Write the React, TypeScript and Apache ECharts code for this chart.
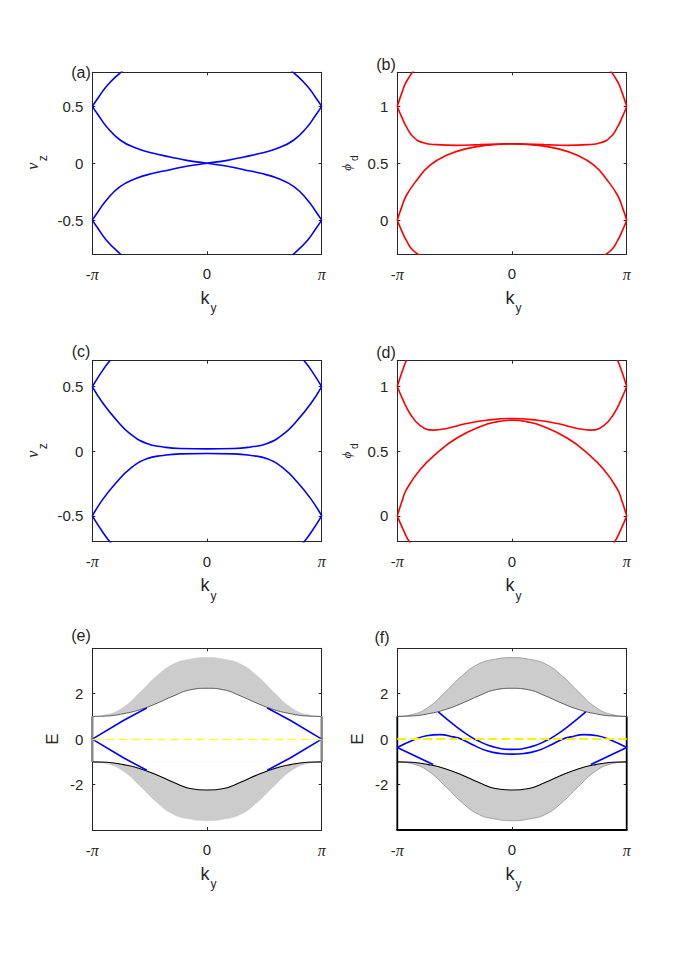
import React, { useEffect, useRef } from 'react';
import * as echarts from 'echarts';

const PI = Math.PI;

// ---------- Panel (a): nu_z ----------
const kA = [-PI, -2.98, -2.75, -2.38, -1.93, -1.47, -1.01, -0.56, 0, 0.56, 1.01, 1.47, 1.93, 2.38, 2.75, 2.98, PI];
const nuA_fall = [0.5, 0.424, 0.322, 0.205, 0.132, 0.088, 0.056, 0.026, 0, -0.026, -0.056, -0.088, -0.132, -0.205, -0.322, -0.424, -0.5];
const nuA_rise = [-0.5, -0.424, -0.322, -0.205, -0.132, -0.088, -0.056, -0.026, 0, 0.026, 0.056, 0.088, 0.132, 0.205, 0.322, 0.424, 0.5];
const kA_left = [-PI, -2.98, -2.75, -2.38, -2.2];
const kA_right = [2.2, 2.38, 2.75, 2.98, PI];
const nuA_topLeft = [0.5, 0.576, 0.678, 0.795, 0.84];
const nuA_botLeft = [-0.5, -0.576, -0.678, -0.795, -0.84];
const nuA_topRight = [0.84, 0.795, 0.678, 0.576, 0.5];
const nuA_botRight = [-0.84, -0.795, -0.678, -0.576, -0.5];

// ---------- Panel (b): phi_d ----------
const kB = [-PI, -3.02, -2.89, -2.61, -2.25, -1.79, -1.24, -0.69, 0, 0.69, 1.24, 1.79, 2.25, 2.61, 2.89, 3.02, PI];
const phiB_dome = [0, 0.117, 0.219, 0.351, 0.482, 0.57, 0.629, 0.658, 0.67, 0.658, 0.629, 0.57, 0.482, 0.351, 0.219, 0.117, 0];
const kB2 = [-PI, -3.02, -2.89, -2.7, -2.43, -2.06, -1.52, -0.88, -0.33, 0, 0.33, 0.88, 1.52, 2.06, 2.43, 2.7, 2.89, 3.02, PI];
const phiB_upper = [1, 0.906, 0.82, 0.731, 0.681, 0.664, 0.658, 0.664, 0.67, 0.672, 0.67, 0.664, 0.658, 0.664, 0.681, 0.731, 0.82, 0.906, 1];
const kB_tl = [-PI, -3.02, -2.89, -2.61];
const phiB_tl = [1, 1.117, 1.219, 1.351];
const kB_tr = [2.61, 2.89, 3.02, PI];
const phiB_tr = [1.351, 1.219, 1.117, 1];
const kB_bl = [-PI, -3.02, -2.89, -2.7, -2.43];
const phiB_bl = [0, -0.094, -0.18, -0.269, -0.319];
const kB_br = [2.43, 2.7, 2.89, 3.02, PI];
const phiB_br = [-0.319, -0.269, -0.18, -0.094, 0];

// ---------- Panel (c): nu_z ----------
const kC = [-PI, -2.84, -2.47, -2.11, -1.65, -1.2, -0.74, 0, 0.74, 1.2, 1.65, 2.11, 2.47, 2.84, PI];
const nuC_upper = [0.5, 0.367, 0.238, 0.136, 0.059, 0.033, 0.0205, 0.018, 0.0205, 0.033, 0.059, 0.136, 0.238, 0.367, 0.5];
const nuC_lower = [-0.5, -0.367, -0.238, -0.136, -0.059, -0.033, -0.0205, -0.018, -0.0205, -0.033, -0.059, -0.136, -0.238, -0.367, -0.5];
const kC_left = [-PI, -2.84, -2.66, -2.48];
const kC_right = [2.48, 2.66, 2.84, PI];
const nuC_tl = [0.5, 0.633, 0.7, 0.762];
const nuC_bl = [-0.5, -0.633, -0.7, -0.762];
const nuC_tr = [0.762, 0.7, 0.633, 0.5];
const nuC_br = [-0.762, -0.7, -0.633, -0.5];

// ---------- Panel (d): phi_d ----------
const kD = [-PI, -3.02, -2.89, -2.52, -2.06, -1.52, -0.88, -0.42, 0, 0.42, 0.88, 1.52, 2.06, 2.52, 2.89, 3.02, PI];
const phiD_dome = [0, 0.107, 0.204, 0.357, 0.485, 0.6, 0.689, 0.727, 0.74, 0.727, 0.689, 0.6, 0.485, 0.357, 0.204, 0.107, 0];
const kD2 = [-PI, -2.98, -2.79, -2.52, -2.16, -1.79, -1.24, -0.69, 0, 0.69, 1.24, 1.79, 2.16, 2.52, 2.79, 2.98, PI];
const phiD_upper = [1, 0.893, 0.79, 0.7, 0.663, 0.676, 0.714, 0.74, 0.753, 0.74, 0.714, 0.676, 0.663, 0.7, 0.79, 0.893, 1];
const kD_tl = [-PI, -3.02, -2.89, -2.75];
const phiD_tl = [1, 1.107, 1.204, 1.28];
const kD_tr = [2.75, 2.89, 3.02, PI];
const phiD_tr = [1.28, 1.204, 1.107, 1];
const kD_bl = [-PI, -2.98, -2.79, -2.6];
const phiD_bl = [0, -0.107, -0.21, -0.27];
const kD_br = [2.6, 2.79, 2.98, PI];
const phiD_br = [-0.27, -0.21, -0.107, 0];

// ---------- Panels (e), (f): bulk bands ----------
const kBand = [-PI, -2.74, -2.29, -1.83, -1.37, -0.92, -0.46, 0, 0.46, 0.92, 1.37, 1.83, 2.29, 2.74, PI];
const bandUpperTop = [1.0, 1.08, 1.41, 2.07, 2.79, 3.31, 3.52, 3.59, 3.52, 3.31, 2.79, 2.07, 1.41, 1.08, 1.0];
const bandUpperBottom = [1.0, 1.02, 1.12, 1.3, 1.58, 1.9, 2.17, 2.24, 2.17, 1.9, 1.58, 1.3, 1.12, 1.02, 1.0];
const bandLowerTop = [-1.0, -1.02, -1.12, -1.3, -1.58, -1.9, -2.17, -2.24, -2.17, -1.9, -1.58, -1.3, -1.12, -1.02, -1.0];
const bandLowerBottom = [-1.0, -1.08, -1.41, -2.07, -2.79, -3.31, -3.52, -3.59, -3.52, -3.31, -2.79, -2.07, -1.41, -1.08, -1.0];

// (e) edge states
const kE_left = [-PI, -2.29, -1.65];
const kE_right = [1.65, 2.29, PI];
const eE_upLeft = [0, 0.82, 1.37];
const eE_dnLeft = [0, -0.82, -1.37];
const eE_upRight = [1.37, 0.82, 0];
const eE_dnRight = [-1.37, -0.82, 0];
const eEdgeGap = [-1, 1];

// (f) edge states
const kF_outer = [-2.02, -1.52, -1.24, -0.97, -0.51, 0, 0.51, 0.97, 1.24, 1.52, 2.02];
const eF_outer = [1.2, 0.54, 0.22, -0.04, -0.34, -0.45, -0.34, -0.04, 0.22, 0.54, 1.2];
const kF_inner = [-PI, -2.7, -2.34, -1.97, -1.61, -1.38, -1.06, -0.69, -0.33, 0, 0.33, 0.69, 1.06, 1.38, 1.61, 1.97, 2.34, 2.7, PI];
const eF_inner = [-0.37, -0.04, 0.15, 0.2, 0.1, 0, -0.26, -0.51, -0.63, -0.66, -0.63, -0.51, -0.26, 0, 0.1, 0.2, 0.15, -0.04, -0.37];
const kF_lowLeft = [-PI, -2.16];
const eF_lowLeft = [-0.37, -1.12];
const kF_lowRight = [2.16, PI];
const eF_lowRight = [-1.12, -0.37];
const fEdgeThick = [-4, 1];

// ---------- axes ----------
const kTicks = [-PI, 0, PI];
const yRanges = [[-0.8, 0.8], [-0.3, 1.3], [-0.7, 0.7], [-0.2, 1.2], [-4, 4], [-4, 4]];
const yTicks = [[-0.5, 0, 0.5], [0, 0.5, 1], [-0.5, 0, 0.5], [0, 0.5, 1], [-2, 0, 2], [-2, 0, 2]];
const panelNames = ['(a)', '(b)', '(c)', '(d)', '(e)', '(f)'];

// layout
const GRIDS = [
  { left: 92.3, top: 72.3, width: 229.4, height: 182 },
  { left: 397.3, top: 72.3, width: 229.4, height: 182 },
  { left: 92.3, top: 360.7, width: 229.4, height: 181 },
  { left: 397.3, top: 360.7, width: 229.4, height: 181 },
  { left: 92.3, top: 648.3, width: 229.4, height: 181.7 },
  { left: 397.3, top: 648.3, width: 229.4, height: 181.7 },
];
const PANEL_LABEL_POS = [[81, 72], [386, 64], [81, 351], [386, 352], [81, 635], [382, 637]];

const TXT = '#262626';
const SANS = "'Liberation Sans', Arial, Helvetica, sans-serif";
const SERIF = "'Liberation Serif', 'DejaVu Serif', serif";
const BLUE = '#0000ff';
const RED = '#ff0000';
const SMOOTH = 0.5;

const zip = (ks: number[], vs: number[]) => ks.map((k, i) => [k, vs[i]]);

function kFmt(v: number) {
  if (v < -1) return '{m|-}{p|π}';
  if (v > 1) return '{p|π}';
  return '0';
}

function buildOption() {
  const xAxis: any[] = [];
  const yAxis: any[] = [];
  GRIDS.forEach((_, gi) => {
    ['bottom', 'top'].forEach((pos) => {
      const thick = gi === 5 && pos === 'bottom';
      xAxis.push({
        gridIndex: gi,
        type: 'value',
        position: pos,
        min: -PI,
        max: PI,
        axisLine: { show: true, onZero: false, lineStyle: { color: thick ? '#000' : TXT, width: thick ? 2 : 1 } },
        axisTick: { show: true, inside: true, length: 3, customValues: kTicks, lineStyle: { color: TXT } },
        axisLabel: {
          show: pos === 'bottom',
          customValues: kTicks,
          margin: 12,
          fontSize: 15,
          color: TXT,
          fontFamily: SANS,
          formatter: kFmt,
          rich: {
            m: { fontSize: 15, fontFamily: SANS, color: TXT },
            p: { fontSize: 16, fontFamily: SERIF, fontStyle: 'italic', color: TXT },
          },
        },
        splitLine: { show: false },
      });
    });
    ['left', 'right'].forEach((pos) => {
      yAxis.push({
        gridIndex: gi,
        type: 'value',
        position: pos,
        min: yRanges[gi][0],
        max: yRanges[gi][1],
        axisLine: { show: true, onZero: false, lineStyle: { color: TXT, width: 1 } },
        axisTick: { show: true, inside: true, length: 3, customValues: yTicks[gi], lineStyle: { color: TXT } },
        axisLabel: {
          show: pos === 'left',
          customValues: yTicks[gi],
          margin: 9,
          fontSize: 15,
          color: TXT,
          fontFamily: SANS,
        },
        splitLine: { show: false },
      });
    });
  });

  const line = (gi: number, data: number[][], color: string, width = 1.6, extra: any = {}) => ({
    type: 'line',
    xAxisIndex: 2 * gi,
    yAxisIndex: 2 * gi,
    data,
    symbol: 'none',
    showSymbol: false,
    smooth: SMOOTH,
    clip: true,
    silent: true,
    z: 3,
    lineStyle: { color, width },
    ...extra,
  });

  const area = (gi: number, vs: number[], fill: string, origin: number, z: number, lc: string, lw: number) => ({
    type: 'line',
    xAxisIndex: 2 * gi,
    yAxisIndex: 2 * gi,
    data: zip(kBand, vs),
    symbol: 'none',
    showSymbol: false,
    smooth: SMOOTH,
    silent: true,
    z,
    lineStyle: { color: lc, width: lw },
    areaStyle: { color: fill, opacity: 1, origin },
  });

  const series: any[] = [];
  // (a)
  [zip(kA, nuA_fall), zip(kA, nuA_rise), zip(kA_left, nuA_topLeft), zip(kA_left, nuA_botLeft),
   zip(kA_right, nuA_topRight), zip(kA_right, nuA_botRight)].forEach((d) => series.push(line(0, d, BLUE)));
  // (b)
  [zip(kB, phiB_dome), zip(kB2, phiB_upper), zip(kB_tl, phiB_tl), zip(kB_tr, phiB_tr),
   zip(kB_bl, phiB_bl), zip(kB_br, phiB_br)].forEach((d) => series.push(line(1, d, RED)));
  // (c)
  [zip(kC, nuC_upper), zip(kC, nuC_lower), zip(kC_left, nuC_tl), zip(kC_left, nuC_bl),
   zip(kC_right, nuC_tr), zip(kC_right, nuC_br)].forEach((d) => series.push(line(2, d, BLUE)));
  // (d)
  [zip(kD, phiD_dome), zip(kD2, phiD_upper), zip(kD_tl, phiD_tl), zip(kD_tr, phiD_tr),
   zip(kD_bl, phiD_bl), zip(kD_br, phiD_br)].forEach((d) => series.push(line(3, d, RED)));

  // (e) & (f) bands
  [4, 5].forEach((gi) => {
    const outer = gi === 5 ? '#7a7a7a' : '#cccccc';
    series.push(area(gi, bandUpperTop, '#cccccc', 1, 1, outer, 0.6));
    series.push(area(gi, bandLowerBottom, '#cccccc', -1, 1, outer, 0.6));
    series.push(area(gi, bandUpperBottom, '#ffffff', 0.97, 2, '#3a3a3a', 0.8));
    series.push(area(gi, bandLowerTop, '#ffffff', -0.97, 2, '#000000', 1.1));
  });

  // (e) edges & states
  series.push(line(4, [[-PI, eEdgeGap[0]], [-PI, eEdgeGap[1]]], '#8a8a8a', 2.5, { clip: false, smooth: false }));
  series.push(line(4, [[PI, eEdgeGap[0]], [PI, eEdgeGap[1]]], '#8a8a8a', 2.5, { clip: false, smooth: false }));
  series.push(line(4, zip(kE_left, eE_upLeft), BLUE, 1.6, {
    smooth: false,
    markLine: {
      silent: true, symbol: ['none', 'none'], label: { show: false },
      lineStyle: { color: '#ffff40', width: 1.3, type: [9, 4], opacity: 1 },
      data: [{ yAxis: 0 }],
    },
  }));
  series.push(line(4, zip(kE_left, eE_dnLeft), BLUE, 1.6, { smooth: false }));
  series.push(line(4, zip(kE_right, eE_upRight), BLUE, 1.6, { smooth: false }));
  series.push(line(4, zip(kE_right, eE_dnRight), BLUE, 1.6, { smooth: false }));

  // (f) edges & states
  series.push(line(5, [[-PI, fEdgeThick[0]], [-PI, fEdgeThick[1]]], '#000000', 1.8, { clip: false, smooth: false }));
  series.push(line(5, [[PI, fEdgeThick[0]], [PI, fEdgeThick[1]]], '#000000', 1.8, { clip: false, smooth: false }));
  series.push(line(5, zip(kF_inner, eF_inner), BLUE, 1.6, {
    markLine: {
      silent: true, symbol: ['none', 'none'], label: { show: false },
      lineStyle: { color: '#f5f500', width: 2, type: [9, 4] },
      data: [{ yAxis: 0 }],
    },
  }));
  series.push(line(5, zip(kF_outer, eF_outer), BLUE));
  series.push(line(5, zip(kF_lowLeft, eF_lowLeft), BLUE, 1.6, { smooth: false }));
  series.push(line(5, zip(kF_lowRight, eF_lowRight), BLUE, 1.6, { smooth: false }));

  // texts
  const graphic: any[] = [];
  const txt = (text: string, x: number, y: number, size: number, family: string, opts: any = {}) => ({
    type: 'text',
    x,
    y,
    rotation: opts.rot ? Math.PI / 2 : 0,
    silent: true,
    style: {
      text,
      fontSize: size,
      fontFamily: family,
      fontStyle: opts.italic ? 'italic' : 'normal',
      fill: TXT,
      align: 'center',
      verticalAlign: 'middle',
    },
  });
  GRIDS.forEach((g, gi) => {
    const cx = g.left + g.width / 2;
    const cy = g.top + g.height / 2;
    const bottom = g.top + g.height;
    graphic.push(txt(panelNames[gi], PANEL_LABEL_POS[gi][0], PANEL_LABEL_POS[gi][1], 16, SANS));
    graphic.push(txt('k', cx - 2, bottom + 43.5, 18, SANS));
    graphic.push(txt('y', cx + 6.5, bottom + 54, 12, SANS));
    const lx = g.left;
    if (gi === 0 || gi === 2) {
      graphic.push(txt('ν', lx - 60, cy + 3, 16, SERIF, { rot: true, italic: true }));
      graphic.push(txt('z', lx - 49.5, cy - 5, 12, SANS, { rot: true }));
    } else if (gi === 1 || gi === 3) {
      graphic.push(txt('ϕ', lx - 51, cy + 4, 13, SERIF, { rot: true, italic: true }));
      graphic.push(txt('d', lx - 42.5, cy - 5, 10, SANS, { rot: true }));
    } else {
      graphic.push(txt('E', lx - 39.5, cy, 17, SANS, { rot: true }));
    }
  });

  return {
    animation: false,
    backgroundColor: '#ffffff',
    grid: GRIDS.map((g) => ({ ...g, containLabel: false })),
    xAxis,
    yAxis,
    series,
    graphic,
  };
}

export default function App() {
  const ref = useRef<HTMLDivElement>(null);
  useEffect(() => {
    if (!ref.current) return;
    const chart = echarts.init(ref.current, undefined, { renderer: 'svg', width: 693, height: 961 });
    chart.setOption(buildOption() as any);
    return () => chart.dispose();
  }, []);
  return <div ref={ref} style={{ position: 'absolute', left: 0, top: 0, width: 693, height: 961 }} />;
}
